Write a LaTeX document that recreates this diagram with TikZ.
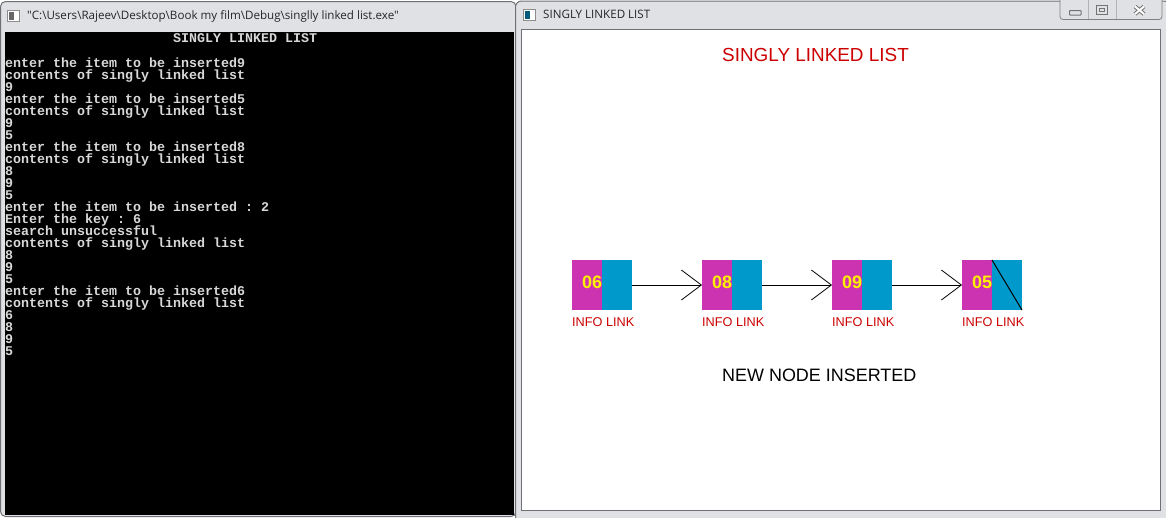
\documentclass[tikz,border=0pt]{standalone}
\usepackage{fontspec}
\setmainfont{Liberation Sans}
\newfontfamily\consolefont{Liberation Mono}[Scale=1]
\newfontfamily\barfont{Open Sans}
\usetikzlibrary{arrows.meta}
\frenchspacing
\definecolor{framegray}{HTML}{DFE1E4}
\definecolor{edgegray}{HTML}{6E7073}
\definecolor{infocol}{HTML}{CC33B0}
\definecolor{linkcol}{HTML}{0099CC}
\definecolor{labelred}{HTML}{CC0000}
\definecolor{consoletext}{HTML}{D8D8D8}
\tikzset{
  x=1pt,y=-1pt,
  winframe/.style={fill=framegray,draw=edgegray,line width=1pt},
  bartext/.style={anchor=west,inner sep=0pt,font=\barfont\fontsize{11.6}{12}\selectfont,text=black!85},
  consoleline/.style={anchor=base west,inner sep=0pt,text=consoletext,font=\consolefont\bfseries\fontsize{13.33}{12}\selectfont},
  infobox/.style={fill=infocol,minimum width=30pt,minimum height=50pt,inner sep=0pt,outer sep=0pt,anchor=north west,text=yellow,font=\bfseries\fontsize{18}{18}\selectfont},
  linkbox/.style={fill=linkcol,minimum width=30pt,minimum height=50pt,inner sep=0pt,outer sep=0pt,anchor=north west},
  boxlabel/.style={anchor=base west,inner sep=0pt,text=labelred,font=\fontsize{12.7}{13}\selectfont},
  heading/.style={anchor=base west,inner sep=0pt,font=\fontsize{18.9}{19}\selectfont},
  message/.style={anchor=base west,inner sep=0pt,font=\fontsize{17.95}{19}\selectfont},
  nextarrow/.style={draw=black,line width=1pt,-{Straight Barb[length=20pt,width=30pt,line width=0.8pt]}},
  endslash/.style={draw=black,line width=1pt},
  winicon/.style={fill=white,draw=black!45,line width=.7pt},
  btn/.style={draw=black!55,line width=1pt},
}
\begin{document}
\begin{tikzpicture}
\useasboundingbox (0,0) rectangle (1166,517);
\fill[white] (0,0) rectangle (1166,517);
% console window
\draw[winframe,rounded corners=5pt] (0.5,1.5) -- (516,1.5) -- (516,516.5) -- (0.5,516.5) -- cycle;
\fill[black] (5,32) rectangle (514,515);
\draw[winicon] (7.5,10.5) rectangle (19.5,21.5);
\fill[black!60] (9,12) rectangle (14,20);
\node[bartext] (contitle) at (27,16.5) {"C:\textbackslash Users\textbackslash Rajeev\textbackslash Desktop\textbackslash Book my film\textbackslash Debug\textbackslash singlly linked list.exe"};
% console text
\node[consoleline] (c0) at (173,42.5) {SINGLY LINKED LIST};
\foreach \yy/\txt in {
 67/enter the item to be inserted9,
 79/contents of singly linked list,
 91/9,
 103/enter the item to be inserted5,
 115/contents of singly linked list,
 127/9,
 139/5,
 151/enter the item to be inserted8,
 163/contents of singly linked list,
 175/8,
 187/9,
 199/5,
 211/enter the item to be inserted : 2,
 223/Enter the key : 6,
 235/search unsuccessful,
 247/contents of singly linked list,
 259/8,
 271/9,
 283/5,
 295/enter the item to be inserted6,
 307/contents of singly linked list,
 319/6,
 331/8,
 343/9,
 355/5}{
  \node[consoleline] (line\yy) at (5,\yy) {\txt};
}
% graphics window
\draw[winframe,rounded corners=6pt] (515.5,1) -- (1170,1) -- (1170,522) -- (515.5,522) -- cycle;
\fill[framegray] (1160,20) rectangle (1166,517);
\draw[fill=white,draw=edgegray,line width=1pt] (521.5,29.5) rectangle (1160,510.5);
\draw[winicon] (523.5,9.5) rectangle (535.5,20.5);
\fill[linkcol!60!black] (525,11) rectangle (530,19);
\node[bartext] (wintitle) at (543,14.5) {SINGLY LINKED LIST};
% window buttons
\draw[draw=black!50,line width=.8pt,rounded corners=3pt,fill=framegray] (1060,-3) -- (1060,19.5) -- (1162,19.5) -- (1162,-3);
\draw[draw=black!30,line width=.8pt] (1088.5,0) -- (1088.5,19) (1116,0) -- (1116,19);
\draw[btn,rounded corners=.5pt] (1069.5,10.5) rectangle (1081,15);
\draw[btn] (1096.5,5.5) rectangle (1107,14.5);
\draw[btn] (1099.5,8.5) rectangle (1104,11.5);
\draw[draw=black!55,line width=4pt] (1135,6.5) -- (1144,14) (1144,6.5) -- (1135,14);
\draw[draw=white,line width=2pt] (1135,6.5) -- (1144,14) (1144,6.5) -- (1135,14);
% title and list
\node[heading,text=labelred] (head) at (722,61) {SINGLY LINKED LIST};
\foreach \nm/\xx/\val in {a/572/06,b/702/08,c/832/09,d/962/05}{
  \node[infobox] (\nm-info) at (\xx,260) {\hspace*{10pt}\raisebox{5pt}{\val}};
  \node[linkbox] (\nm-link) at (\xx+30,260) {};
  \node[boxlabel] (\nm-lab) at (\xx,326) {INFO LINK};
}
\draw[nextarrow] (a-link.east) -- (b-info.west);
\draw[nextarrow] (b-link.east) -- (c-info.west);
\draw[nextarrow] (c-link.east) -- (d-info.west);
\draw[endslash] (d-link.north west) -- (d-link.south east);
\node[message,text=black] (msg) at (722,381) {NEW NODE INSERTED};
\end{tikzpicture}
\end{document}
